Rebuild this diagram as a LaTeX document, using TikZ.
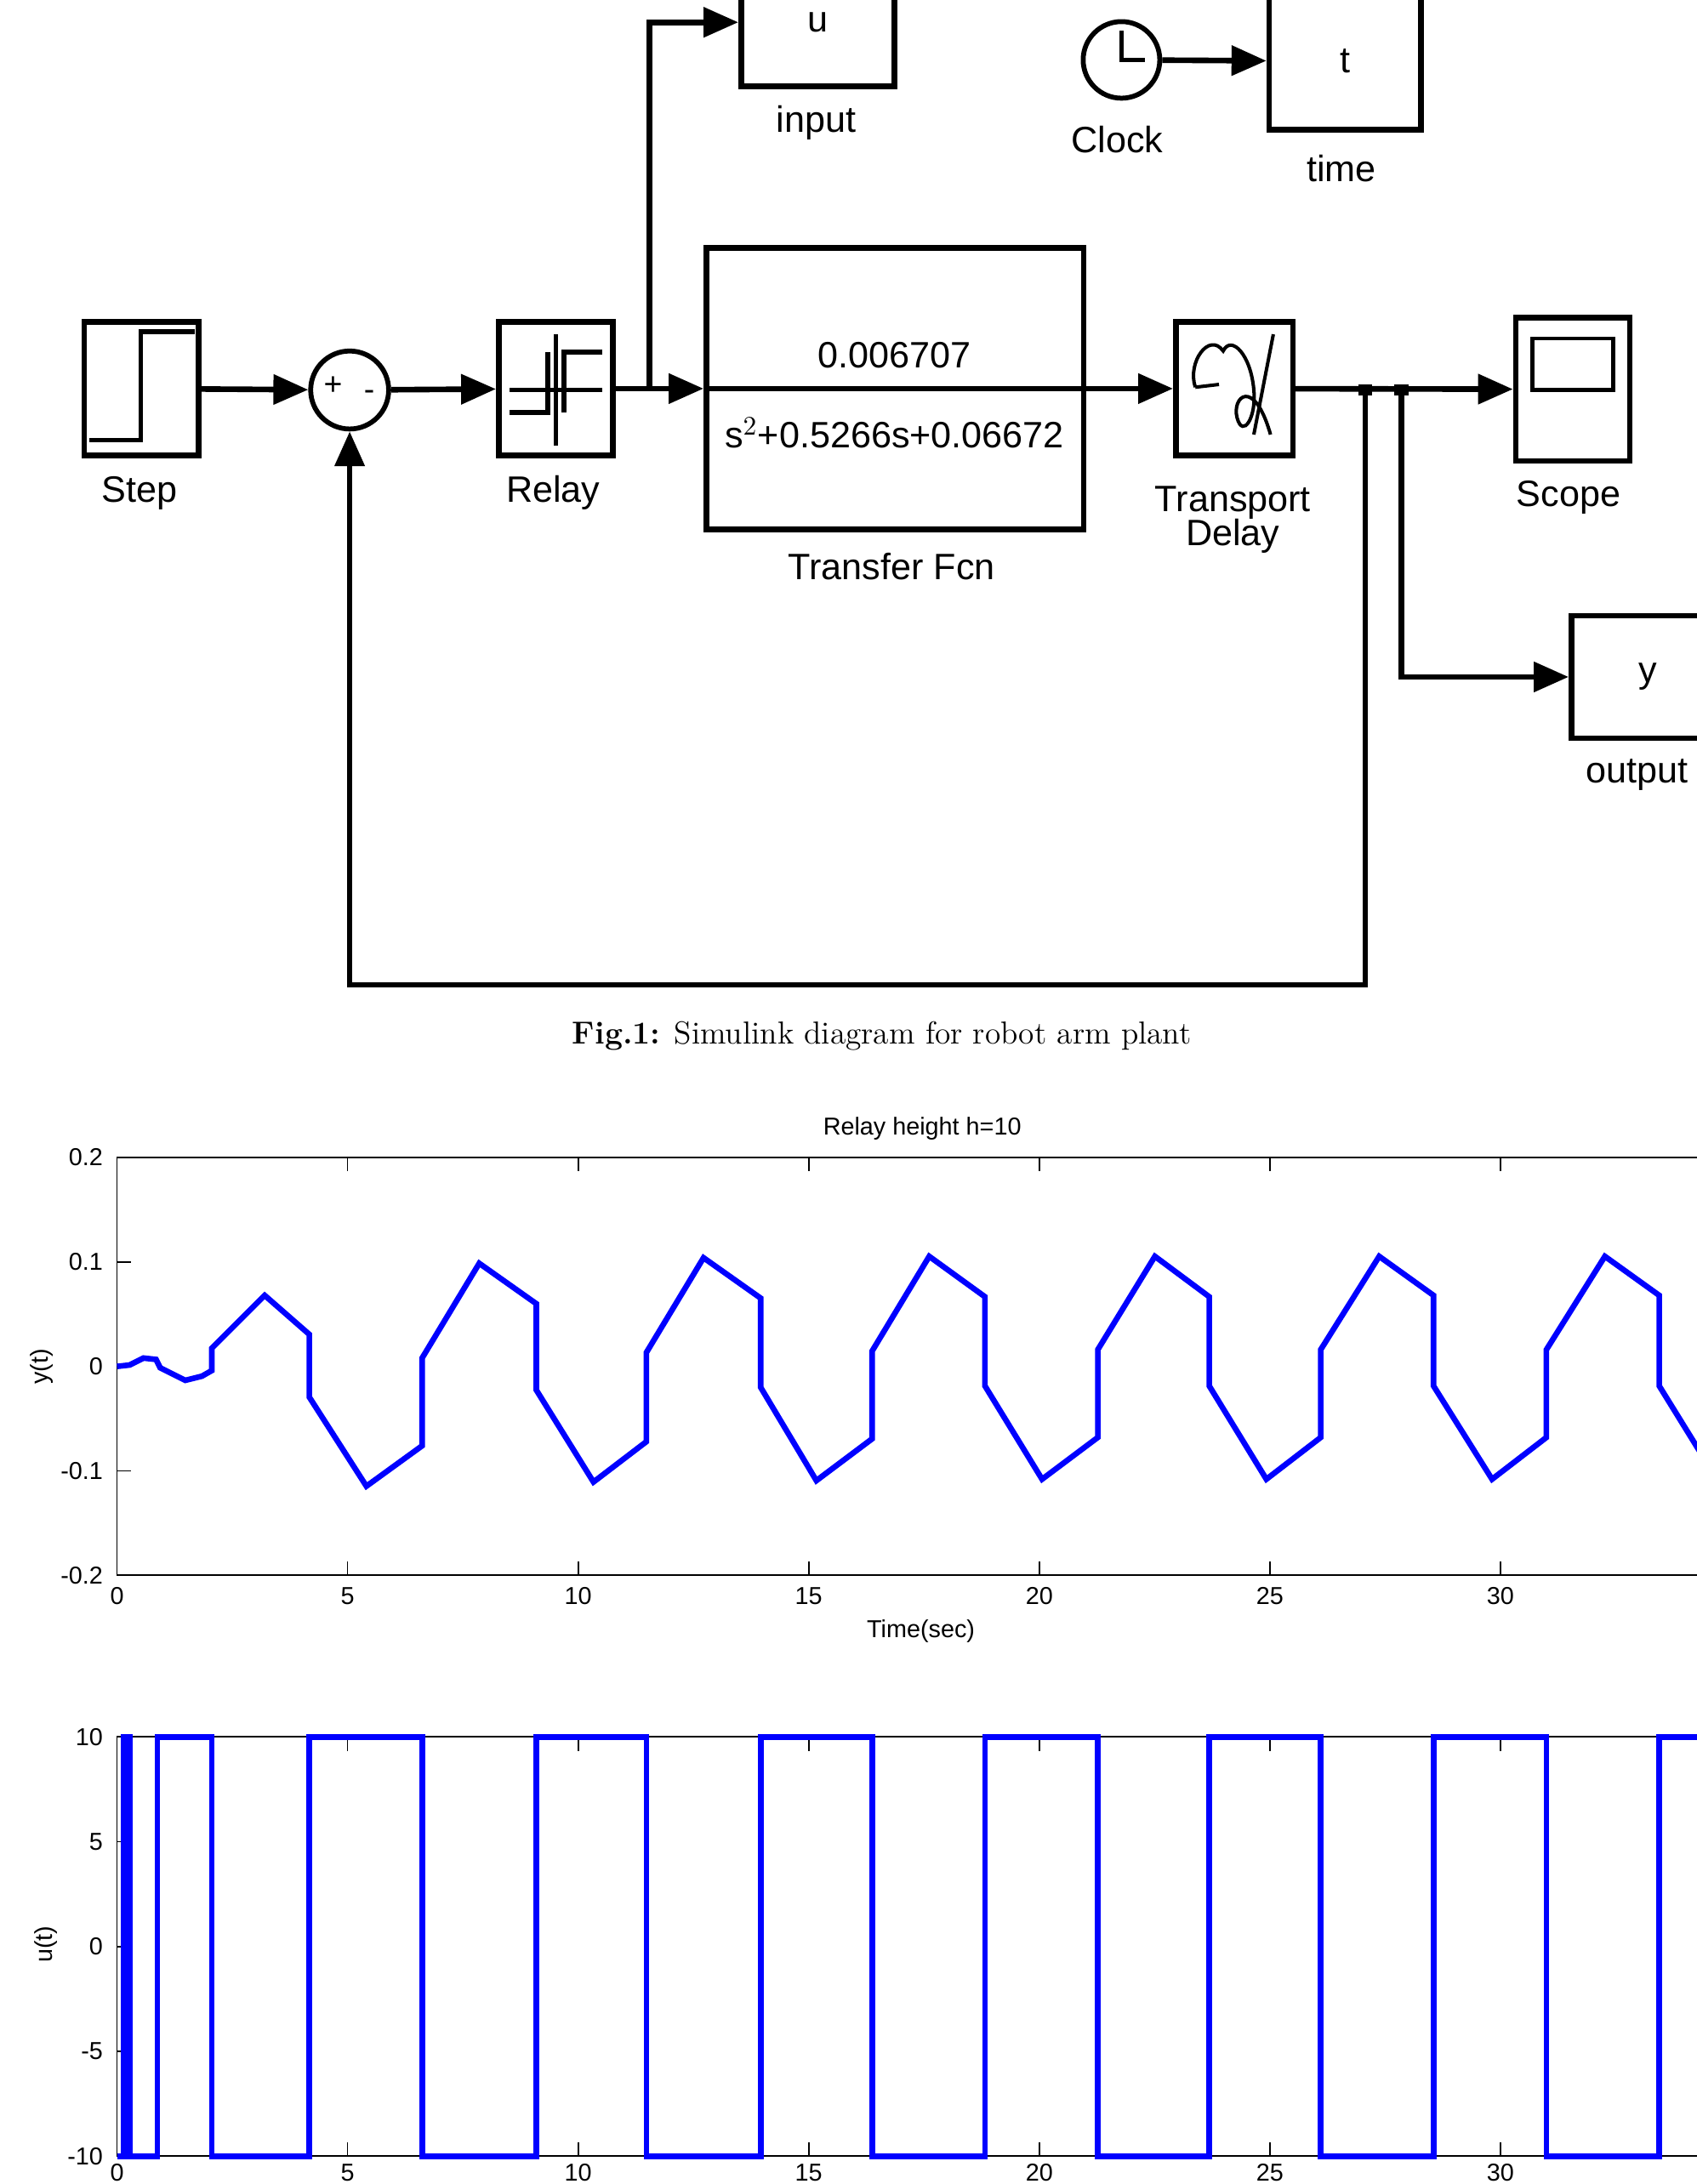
\documentclass[tikz,border=0pt]{standalone}
\usepackage{fontspec}
\setmainfont{Liberation Sans}
\newfontfamily\capfont{Latin Modern Roman}
\usetikzlibrary{arrows.meta,positioning}
\tikzstyle{wire} = [line width=2.3pt]
\tikzstyle{arrow} = [line width=2.3pt,-{Triangle[length=0.5cm,width=0.42cm]}]
\tikzstyle{block} = [rectangle, draw=black, line width=2.3pt, minimum width=1.64cm, minimum height=1.92cm, inner sep=0pt, font=\fontsize{15}{17}\selectfont]
\tikzstyle{lbl} = [font=\fontsize{15}{17}\selectfont, align=center]
\tikzstyle{axlbl} = [font=\fontsize{10}{12}\selectfont]
\tikzstyle{curve} = [blue, line width=2.3pt, line join=miter]
\begin{document}
\begin{tikzpicture}[x=0.02cm,y=-0.02cm]
  \useasboundingbox (0,0) rectangle (1218,1568);
  \clip (0,0) rectangle (1218,1568);

  % blocks
  \node (step) [block] at (101.5,279) {};
  \node (sum) [circle, draw, line width=2pt, minimum size=1.12cm, inner sep=0pt] at (251,280) {};
  \node (relay) [block] at (399,279) {};
  \node (tf) [block, minimum width=5.42cm, minimum height=4.04cm] at (642.5,279) {};
  \node (delay) [block, minimum width=1.68cm] at (886,279) {};
  \node (scope) [block, minimum height=2.06cm] at (1129,279.5) {};
  \node (ysink) [block, minimum width=2.2cm, minimum height=1.76cm] at (1183,486) {y};
  \node (usink) [block, minimum width=2.2cm, minimum height=1.84cm] at (587,16) {u};
  \node (tsink) [block, minimum width=2.18cm, minimum height=1.96cm] at (965.5,44) {t};
  \node (clock) [circle, draw, line width=2pt, minimum size=1.1cm, inner sep=0pt] at (805,43) {};

  % labels
  \node [lbl] at (100,354) {Step};
  \node [lbl] at (397,354) {Relay};
  \node [lbl] at (640,407) {Transfer Fcn};
  \node [lbl] at (885,373) {Transport\\[-3pt]Delay};
  \node [lbl] at (1126,357) {Scope};
  \node [lbl] at (1175,556) {output};
  \node [lbl] at (586,88) {input};
  \node [lbl] at (802,100) {Clock};
  \node [lbl] at (963,121) {time};
  \node [lbl] at (642,255) {0.006707};
  \node [lbl] at (642,311) {s$^2$+0.5266s+0.06672};
  \node [font=\fontsize{13}{15}\selectfont] at (239,277) {+};
  \node [font=\fontsize{13}{15}\selectfont] at (265,284) {-};

  % icons
  \draw [line width=2pt] (64,316) -- (101,316) -- (101,238) -- (140,238);
  \draw [line width=1.6pt] (399,240) -- (399,320) (366,280) -- (432,280);
  \draw [line width=2pt] (432,253) -- (405,253) -- (405,296) (366,296) -- (393,296) -- (393,253);
  \draw [line width=1.6pt] (1100,243) rectangle (1158,280);
  \draw [line width=1.4pt] (858,278) .. controls (852,260) and (868,238) .. (878,252)
    .. controls (884,240) and (898,255) .. (900,280) .. controls (902,300) and (892,315) .. (888,300)
    .. controls (884,285) and (900,270) .. (912,312);
  \draw [line width=1.4pt] (858,278) -- (875,276) (914,240) -- (900,312);
  \draw [line width=2pt] (805,22) -- (805,43) -- (822,43);

  % connectors
  \draw [arrow] (step) -- (sum);
  \draw [arrow] (sum) -- (relay);
  \draw [arrow] (relay) -- (tf);
  \draw [wire] (tf.west) -- (tf.east);
  \draw [arrow] (tf) -- (delay);
  \draw [arrow] (delay) -- (scope);
  \coordinate (bu) at (466,280);
  \coordinate (bfb) at (980,280);
  \coordinate (by) at (1006,280);
  \draw [arrow] (bu) |- (usink.west);
  \draw [arrow] (clock) -- (tsink);
  \draw [arrow] (by) |- (ysink.west);
  \draw [arrow] (bfb) -- (980,707) -| (sum.south);
  \fill (bfb) ++(-5,-4) rectangle ++(10,8);
  \fill (by) ++(-5,-4) rectangle ++(10,8);

  % caption
  \node [font=\capfont\fontsize{13}{15}\selectfont] at (633,744) {\textbf{Fig.1:} Simulink diagram for robot arm plant};

  % plot y(t)
  \draw [line width=0.6pt] (84,831) rectangle (1240,1131);
  \foreach \k/\t in {0/0,1/5,2/10,3/15,4/20,5/25,6/30} {
    \draw [line width=0.6pt] (84+165.5*\k,831) -- ++(0,10) (84+165.5*\k,1131) -- ++(0,-10);
    \node [axlbl] at (84+165.5*\k,1146) {\t};
  }
  \foreach \v/\t in {0/0.2,1/0.1,2/0,3/-0.1,4/-0.2} {
    \draw [line width=0.6pt] (84,831+75*\v) -- ++(10,0);
    \node [axlbl, anchor=east] at (80,831+75*\v) {\t};
  }
  \node [axlbl] at (662,810) {Relay height h=10};
  \node [axlbl] at (661,1171) {Time(sec)};
  \node [axlbl, rotate=90] at (30,981) {y(t)};
  \draw [curve] plot coordinates {(84,981) (93,980) (103,975) (112,976) (115,982) (133,991) (145,988) (152,984) (152,968) (190,930) (222,958) (222,1003) (263,1067) (303,1038) (303,975) (344,907) (385,936) (385,998) (426,1064) (464,1035) (464,971) (505,903) (546,932) (546,996) (586,1063) (626,1033) (626,970) (667,902) (707,931) (707,995) (748,1062) (788,1032) (788,969) (829,902) (868,931) (868,995) (909,1062) (948,1032) (948,969) (990,902) (1029,930) (1029,995) (1071,1062) (1110,1032) (1110,969) (1152,902) (1191,930) (1191,995) (1225,1050)};

  % plot u(t)
  \draw [line width=0.6pt] (84,1247) rectangle (1240,1548);
  \foreach \k/\t in {0/0,1/5,2/10,3/15,4/20,5/25,6/30} {
    \draw [line width=0.6pt] (84+165.5*\k,1247) -- ++(0,10) (84+165.5*\k,1548) -- ++(0,-10);
    \node [axlbl] at (84+165.5*\k,1560) {\t};
  }
  \foreach \v/\t in {0/10,1/5,2/0,3/-5,4/-10} {
    \draw [line width=0.6pt] (84,1247+75.25*\v) -- ++(10,0);
    \node [axlbl, anchor=east] at (80,1247+75.25*\v) {\t};
  }
  \node [axlbl, rotate=90] at (33,1396) {u(t)};
  \draw [curve] plot coordinates {(84,1548) (89,1548) (89,1247) (93,1247) (93,1548) (113,1548) (113,1247) (152,1247) (152,1548) (222,1548) (222,1247) (303,1247) (303,1548) (385,1548) (385,1247) (464,1247) (464,1548) (546,1548) (546,1247) (626,1247) (626,1548) (707,1548) (707,1247) (788,1247) (788,1548) (868,1548) (868,1247) (948,1247) (948,1548) (1029,1548) (1029,1247) (1110,1247) (1110,1548) (1191,1548) (1191,1247) (1230,1247)};
\end{tikzpicture}
\end{document}
